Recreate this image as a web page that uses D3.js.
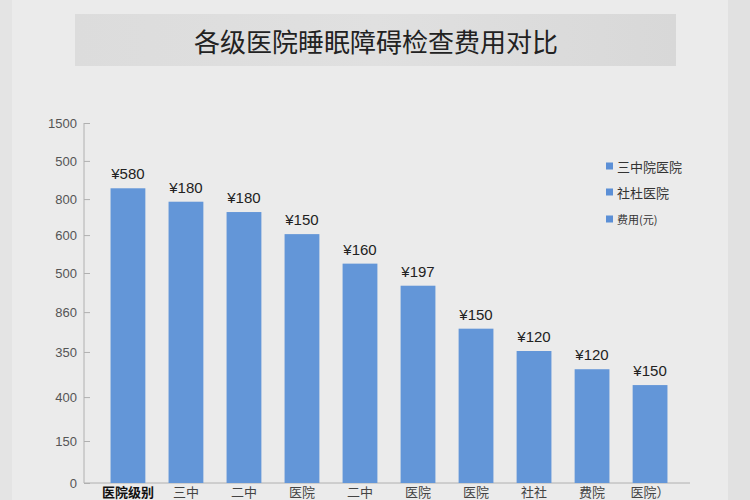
<!DOCTYPE html>
<html><head><meta charset="utf-8">
<script src="https://cdn.jsdelivr.net/npm/d3@7"></script>
<style>
html,body{margin:0;padding:0;background:#ebebeb;}
svg{display:block;font-family:"Noto Sans CJK SC","Noto Sans",sans-serif;}
</style></head>
<body><svg id="c" width="750" height="500"></svg>
<script>
const title = "各级医院睡眠障碍检查费用对比";
const categories = ["医院级别","三中","二中","医院","二中","医院","医院","社社","费院","医院）"];
const values = [1228,1172,1129,1037,914,822,643,550,474,408];
const valueLabels = ["¥580","¥180","¥180","¥150","¥160","¥197","¥150","¥120","¥120","¥150"];
const tickValues = [0,175,358,546,712,875,1033,1183,1342,1500];
const tickLabels = ["0","150","400","350","860","500","600","800","500","1500"];
const legendItems = ["三中院医院","社杜医院","费用(元)"];

const svg = d3.select("#c");
// background strips
svg.append("rect").attr("x",0).attr("y",0).attr("width",750).attr("height",500).attr("fill","#ebebeb");
svg.append("rect").attr("x",0).attr("y",0).attr("width",12).attr("height",500).attr("fill","#e4e4e4");
svg.append("rect").attr("x",728).attr("y",0).attr("width",22).attr("height",500).attr("fill","#e1e1e1");

// title box
const defs = svg.append("defs");
const g1 = defs.append("linearGradient").attr("id","tg").attr("x1","0").attr("x2","1");
g1.append("stop").attr("offset","0").attr("stop-color","#dcdcdc");
g1.append("stop").attr("offset","0.5").attr("stop-color","#e0e0e0");
g1.append("stop").attr("offset","1").attr("stop-color","#d8d8d8");
svg.append("rect").attr("x",75).attr("y",14).attr("width",601).attr("height",52).attr("fill","url(#tg)");
svg.append("text").attr("x",376).attr("y",40).attr("text-anchor","middle").attr("dominant-baseline","central")
  .attr("font-size",26).attr("fill","#222").text(title);

const y = d3.scaleLinear().domain([0,1500]).range([483,123]);
const x = d3.scaleBand().domain(d3.range(categories.length)).range([88.5,689.5]).paddingInner(0.4).paddingOuter(0.38);

// y axis
const yAxis = d3.axisLeft(y).tickValues(tickValues).tickSize(-6).tickPadding(7)
  .tickFormat((d,i)=>tickLabels[i]);
const ga = svg.append("g").attr("transform","translate(84,0)").call(yAxis);
ga.select(".domain").remove();
ga.selectAll(".tick line").attr("stroke","#b0b0b0");
ga.selectAll(".tick text").attr("fill","#555").attr("font-size",13).attr("font-family","'Liberation Sans','Noto Sans',sans-serif");
svg.append("line").attr("x1",84).attr("x2",84).attr("y1",123).attr("y2",483).attr("stroke","#b0b0b0");
svg.append("line").attr("x1",84).attr("x2",690).attr("y1",483).attr("y2",483).attr("stroke","#b0b0b0");

// bars
svg.append("g").selectAll("rect").data(values).join("rect")
  .attr("x",(d,i)=>x(i)).attr("width",x.bandwidth())
  .attr("y",d=>y(d)).attr("height",d=>y(0)-y(d)).attr("fill","#6396d8");

svg.append("g").selectAll("text").data(values).join("text")
  .attr("x",(d,i)=>x(i)+x.bandwidth()/2).attr("y",d=>y(d)-9)
  .attr("text-anchor","middle").attr("font-size",15).attr("fill","#222")
  .attr("font-family","'Liberation Sans','Noto Sans',sans-serif")
  .text((d,i)=>valueLabels[i]);

// x labels
svg.append("g").selectAll("text").data(categories).join("text")
  .attr("x",(d,i)=>x(i)+x.bandwidth()/2).attr("y",497)
  .attr("text-anchor","middle").attr("font-size",13).attr("fill",(d,i)=>i===0?"#111":"#444")
  .attr("font-weight",(d,i)=>i===0?"bold":"normal")
  .text(d=>d);

// legend
const ly = [166,192,219];
const lsz = [13,13,11];
const lg = svg.append("g");
legendItems.forEach((t,i)=>{
  lg.append("rect").attr("x",606).attr("y",ly[i]-3.5).attr("width",7).attr("height",7).attr("fill","#5b8fd6");
  lg.append("text").attr("x",617).attr("y",ly[i]).attr("dominant-baseline","central")
    .attr("font-size",lsz[i]).attr("fill","#333").text(t);
});
</script></body></html>
